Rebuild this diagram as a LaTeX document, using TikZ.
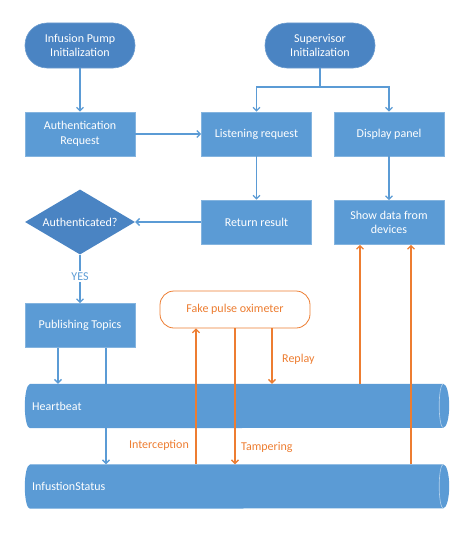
\documentclass[tikz,border=0pt]{standalone}
\usepackage{fontspec}
\setmainfont{Carlito}
\usetikzlibrary{arrows.meta,shapes.geometric,calc}
\definecolor{boxblue}{HTML}{5B9BD5}
\definecolor{darkblue}{HTML}{4A84C3}
\definecolor{orng}{HTML}{ED7D31}
\begin{document}
\begin{tikzpicture}[x=1pt,y=-1pt,
  txt/.style={font=\fontsize{12}{14.5}\selectfont},
  term/.style={txt,rectangle,rounded corners=22pt,fill=darkblue,draw=darkblue!80!white,line width=0.6pt,
    minimum width=110,minimum height=45,text=white,align=center,inner sep=2pt},
  proc/.style={txt,rectangle,fill=boxblue,draw=boxblue!75!white,line width=0.6pt,
    minimum width=110,minimum height=44,text=white,align=center,inner sep=2pt},
  dec/.style={txt,diamond,aspect=1.7,fill=darkblue,minimum width=110,minimum height=65,
    inner sep=0pt,text=white},
  fake/.style={txt,rectangle,rounded corners=14pt,fill=white,draw=orng,line width=0.8pt,
    minimum width=150,minimum height=37,text=orng},
  bus/.style={rectangle,minimum width=424,minimum height=44,inner sep=0pt},
  buslabel/.style={txt,text=white,anchor=west,inner sep=0pt},
  olabel/.style={txt,text=orng,inner sep=1pt},
  barrow/.style={draw=boxblue,line width=1.5pt,-{Straight Barb[length=3.5pt,width=7pt,line width=1.3pt]}},
  oarrow/.style={draw=orng,line width=1.5pt,-{Straight Barb[length=3.5pt,width=7pt,line width=1.3pt]}}
]
\useasboundingbox (0,0) rectangle (474,535);

% nodes
\node[term] (ipi) at (80,45.5) {Infusion Pump\\Initialization};
\node[term] (si) at (320,45.5) {Supervisor\\Initialization};
\node[proc] (ar) at (80,134) {Authentication\\Request};
\node[proc] (lr) at (256.5,134) {Listening request};
\node[proc] (dp) at (389,134) {Display panel};
\node[dec] (au) at (80,222) {Authenticated?};
\node[proc] (rr) at (256.5,222) {Return result};
\node[proc] (sd) at (389,222.5) {Show data from\\devices};
\node[proc] (pt) at (80,325.5) {Publishing Topics};
\node[fake] (fp) at (235,309.5) {Fake pulse oximeter};

% buses (cylinders)
\node[bus] (hb) at (237,406) {};
\node[bus] (is) at (237,486.5) {};
\foreach \b in {hb,is}{
  \fill[boxblue] ([xshift=5pt]\b.north west) -- ([xshift=-6pt]\b.north east)
    arc[start angle=90,end angle=-90,x radius=6pt,y radius=22pt]
    -- ([xshift=5pt]\b.south west)
    arc[start angle=270,end angle=90,x radius=5pt,y radius=22pt] -- cycle;
  \draw[boxblue!45!white,line width=0.6pt] ([xshift=-6pt]\b.north east)
    arc[start angle=90,end angle=270,x radius=4pt,y radius=22pt];
}
\node[buslabel] (hbl) at (32,406) {Heartbeat};
\node[buslabel] (isl) at (32,486.5) {InfustionStatus};

% blue connectors
\coordinate (sj) at (320,87);
\draw[barrow] (ipi) -- (ar);
\draw[line width=1.5pt,boxblue] (si) -- (sj);
\draw[barrow] (sj) -| (lr);
\draw[barrow] (sj) -| (dp);
\draw[barrow] (ar) -- (lr);
\draw[barrow] (lr) -- (rr);
\draw[barrow] (dp) -- (sd);
\draw[barrow] (rr) -- (au);
\draw[barrow] (au) -- node[txt,fill=white,text=boxblue,inner sep=1.5pt,pos=0.45] (yes) {YES} (pt);
\draw[barrow] ([xshift=-22pt]pt.south) -- ([xshift=-22pt]pt.south |- hb.north);
\draw[barrow] ([xshift=26pt]pt.south) -- ([xshift=26pt]pt.south |- is.north);

% orange connectors
\draw[oarrow] ([xshift=-39pt]fp.south |- is.north) -- ([xshift=-39pt]fp.south);
\draw[oarrow] (fp.south) -- (fp.south |- is.north);
\draw[oarrow] ([xshift=37pt]fp.south) -- ([xshift=37pt]fp.south |- hb.north);
\draw[oarrow] ([xshift=-29pt]sd.south |- hb.north) -- ([xshift=-29pt]sd.south);
\draw[oarrow] ([xshift=22pt]sd.south |- is.north) -- ([xshift=22pt]sd.south);

\node[olabel,anchor=west] (rep) at (281,359) {Replay};
\node[olabel,anchor=east] (int) at (190,445) {Interception};
\node[olabel,anchor=west] (tam) at (240,447) {Tampering};
\end{tikzpicture}
\end{document}
